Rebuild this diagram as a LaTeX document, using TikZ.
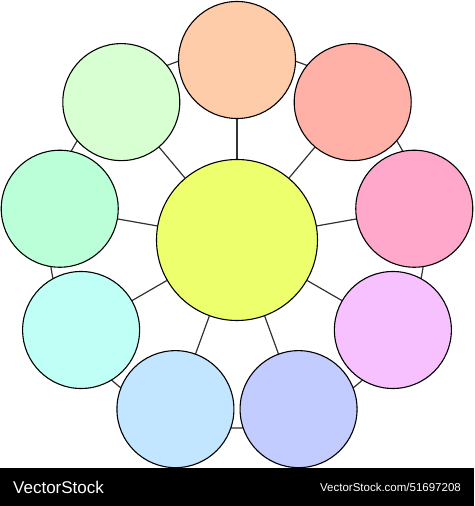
\documentclass[tikz,border=0pt]{standalone}
\usepackage{fontspec}
\setmainfont{Liberation Sans}
\usetikzlibrary{calc}
\begin{document}
\begin{tikzpicture}[x=1pt,y=1pt,
  petal/.style={circle,draw=black,line width=1.1pt,inner sep=0pt,minimum size=117pt},
  hub/.style={circle,draw=black,line width=1.1pt,inner sep=0pt,minimum size=161pt,fill=cHub},
  spoke/.style={draw=black!80,line width=1.2pt},
  ringline/.style={draw=black!80,line width=1.2pt},
  brand/.style={text=white,inner sep=0pt,anchor=west}]
\definecolor{cHub}{HTML}{EEFF6E}
\definecolor{cA}{HTML}{FFCCAA}
\definecolor{cB}{HTML}{FFB1A8}
\definecolor{cC}{HTML}{FFA8CC}
\definecolor{cD}{HTML}{F7C0FF}
\definecolor{cE}{HTML}{C2CCFF}
\definecolor{cF}{HTML}{C2E6FF}
\definecolor{cG}{HTML}{C0FFF5}
\definecolor{cH}{HTML}{BBFFD8}
\definecolor{cI}{HTML}{D8FFD2}
\useasboundingbox (0,0) rectangle (474,506);
\fill[white] (0,0) rectangle (474,506);
\coordinate (O) at (237,266);
% ring behind petals
\node[circle,ringline,minimum size=376pt,inner sep=0pt] (ring) at (O) {};
% hub
\node[hub] (hub) at (O) {};
% petals
\foreach \n/\a/\c in {a/90/cA,b/50/cB,c/10/cC,d/-30/cD,e/-70/cE,f/-110/cF,g/-150/cG,h/170/cH,i/130/cI}{
  \coordinate (q\n) at ($(O)+(\a:180)$);
  \draw[spoke] (hub) -- (q\n);
}
\foreach \n/\a/\c in {a/90/cA,b/50/cB,c/10/cC,d/-30/cD,e/-70/cE,f/-110/cF,g/-150/cG,h/170/cH,i/130/cI}{
  \node[petal,fill=\c] (p\n) at (q\n) {};
}
% bottom bar
\fill[black] (0,0) rectangle (474,38);
\node[brand,font=\fontsize{17}{17}\selectfont] (logo) at (13,19) {VectorStock};
\node[brand,anchor=east,font=\fontsize{11.5}{11.5}\selectfont] (url) at (461,19) {VectorStock.com/51697208};
\end{tikzpicture}
\end{document}
